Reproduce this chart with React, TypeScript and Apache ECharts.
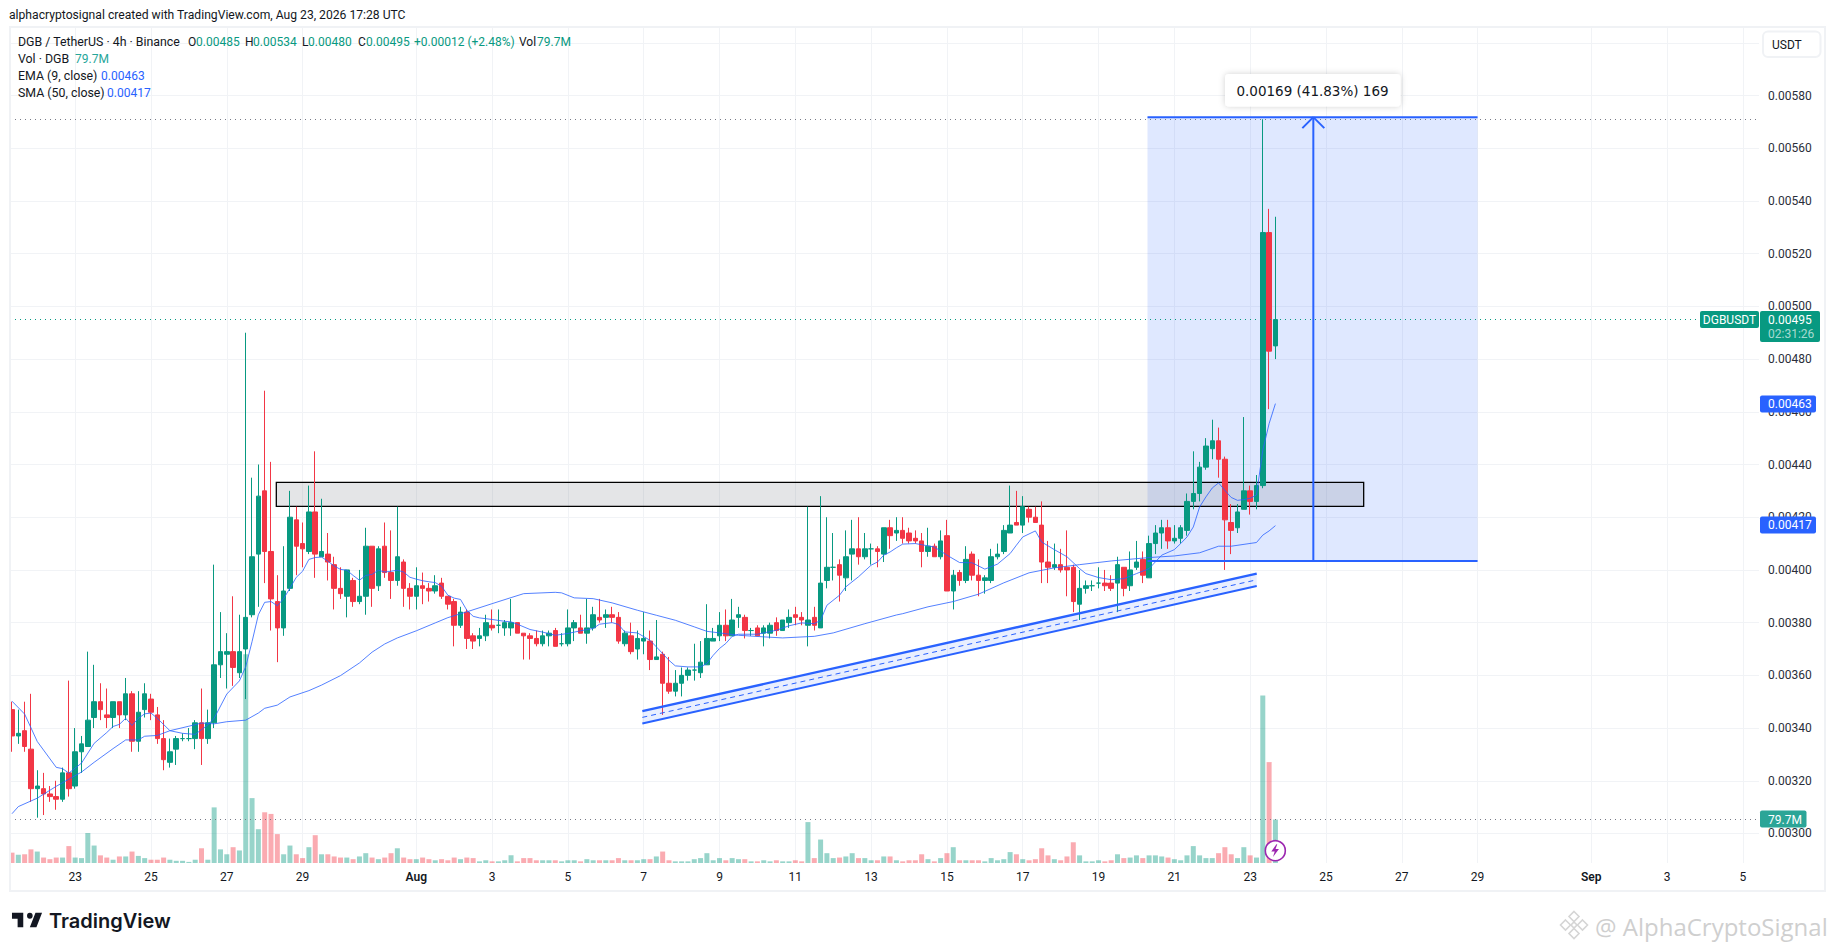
import React, { useEffect, useRef } from "react";
import * as echarts from "echarts";

// Prices are whole ticks of 0.00001 USDT. Candle numbers start at 1 (4h candles, Jul 21 16:00 onward).
const PRICE_TICK = 0.00001;

const opens = [
  347,337,339,332,317,317,315,314,313,323,318,331,333,344,350,345,344,350,345,353,
  335,347,351,345,336,327,332,336,336,336,342,336,342,364,368,369,361,370,383,406,
  430,407,388,378,393,419,410,407,422,405,406,402,393,390,396,388,390,409,394,409,
  399,396,403,393,390,394,393,392,395,390,388,379,384,375,374,375,379,379,378,378,
  380,376,375,374,372,375,377,372,372,378,378,376,378,382,382,383,382,372,375,370,
  373,373,366,368,357,354,357,360,362,361,364,373,375,379,375,382,382,377,378,376,
  376,380,377,380,383,382,379,382,378,396,401,402,397,406,408,405,408,408,406,416,
  414,415,414,412,411,407,409,405,413,392,399,396,406,398,396,396,405,407,414,418,
  417,423,420,417,403,401,402,401,401,387,393,394,395,395,395,395,401,394,401,404,
  397,410,414,416,411,412,415,426,429,439,446,449,442,418,416,423,430,426,432,528,485,
];
const closes = [
  337,338,333,317,318,315,314,313,323,317,331,334,343,350,347,344,350,345,353,335,
  346,353,346,336,328,331,336,336,336,342,336,342,364,369,369,363,369,382,405,428,
  407,389,378,392,420,409,408,422,406,407,403,393,391,400,388,390,409,393,408,399,
  396,405,393,390,394,393,392,394,390,387,379,384,374,373,375,380,378,379,380,380,
  376,375,374,372,375,376,371,372,378,380,376,378,383,381,383,382,373,376,369,374,
  374,366,367,357,354,357,360,362,362,365,374,374,379,375,381,383,377,377,375,378,
  379,377,381,382,382,381,381,379,395,401,401,398,405,408,405,408,408,407,416,413,
  415,412,411,411,407,409,405,411,392,398,396,404,398,396,397,405,406,415,417,417,
  424,420,418,403,401,402,400,400,388,393,394,394,395,394,393,402,393,400,403,398,
  410,414,416,411,412,416,426,429,439,447,449,442,419,415,422,430,426,432,528,483,495,
];
const lows = [
  331,334,331,312,306,307,312,309,312,314,317,323,333,340,343,340,340,340,343,331,
  331,344,343,334,324,325,326,335,335,332,326,334,340,359,355,356,359,351,382,386,
  395,377,365,375,392,398,401,406,397,405,396,385,389,382,386,387,383,386,392,397,
  389,394,386,385,385,387,388,391,389,385,371,378,370,370,371,373,377,376,375,375,
  376,366,366,371,371,371,371,371,371,373,376,372,377,380,378,380,372,371,368,366,
  368,362,366,345,353,352,352,358,358,359,364,373,373,373,375,378,374,375,375,371,
  374,375,377,378,379,379,371,377,378,393,396,388,392,396,402,404,402,401,403,408,
  411,410,410,410,401,405,405,404,392,385,394,395,396,390,391,395,404,406,414,417,
  414,418,418,395,395,400,399,390,384,381,391,392,393,392,392,384,390,392,400,395,
  397,406,408,408,410,410,413,423,426,438,442,435,400,406,414,423,421,423,431,461,480,
];
const highs = [
  350,347,350,353,324,323,318,320,325,358,340,337,369,364,357,355,350,350,359,354,
  354,357,353,348,343,336,337,338,340,343,355,347,402,384,376,390,383,490,435,440,
  468,441,398,409,430,424,418,432,445,427,414,405,401,400,397,400,416,409,409,418,
  415,424,404,395,401,399,395,398,397,390,389,386,385,376,378,383,385,385,381,389,
  380,376,376,377,377,377,378,376,385,381,383,389,386,389,385,386,384,377,380,377,
  384,377,381,369,367,362,363,363,372,373,387,378,384,385,389,386,383,378,379,379,
  380,382,381,385,386,384,424,386,428,420,414,404,415,419,420,414,410,409,416,419,
  420,420,416,415,414,416,410,415,419,400,400,409,407,404,398,408,410,417,432,430,
  428,424,424,426,411,410,408,415,402,400,396,396,401,400,398,405,401,407,411,407,
  413,417,419,419,417,417,429,445,441,450,457,454,443,425,425,458,432,436,571,537,534,
];
// Volume in millions of DGB.
const volumes = [
  19,15,16,25,21,10,7,10,10,31,10,9,55,32,14,10,6,12,12,21,
  13,9,6,6,10,6,4,4,2,6,27,6,102,25,16,29,23,383,119,62,
  93,90,53,16,32,16,9,29,51,16,16,12,10,10,7,12,18,10,7,10,
  18,27,10,7,7,10,7,5,7,5,10,7,10,9,3,5,3,3,5,14,
  3,9,9,5,5,5,5,3,5,5,3,7,5,5,5,5,9,5,5,5,
  7,7,12,21,5,3,3,3,7,9,18,5,9,5,9,7,7,3,3,5,
  3,5,3,3,5,3,75,9,43,18,9,10,12,18,9,9,5,5,12,12,
  5,3,5,5,16,7,3,9,18,29,5,5,5,5,3,9,5,7,20,16,
  7,5,7,27,14,7,5,12,38,14,3,3,5,3,5,16,9,10,14,9,
  14,14,12,10,7,5,14,31,14,9,9,18,29,16,9,29,14,10,307,185,79.7,
];

// Moving averages at [candle number, price in ticks].
const emaPoints: [number, number][] = [
  [1,350.2],[3,345.3],[5,334.9],[8,325.1],[9,324.6],[10,322.9],[12,326.7],[14,334.2],[16,338.3],[17,340.6],
  [18,341.4],[19,343.7],[20,341],[21,343.7],[22,345.4],[23,345.7],[24,343.7],[26,339],[28,338],[30,337.6],
  [32,341.2],[33,343.7],[35,352.9],[37,357.9],[38,363.3],[39,372.8],[40,383],[41,387.7],[42,388],[43,386.4],
  [44,389.1],[45,393.1],[46,397.2],[47,399.5],[48,404],[49,404.7],[50,404.9],[51,403.3],[52,401.5],[53,400.2],
  [54,399.9],[55,397.9],[56,396.1],[57,397.9],[58,398.3],[59,399.9],[60,399.2],[61,399.5],[62,399.9],[63,399.2],
  [64,397.2],[65,396.5],[66,395.9],[67,395.5],[68,395.2],[69,393.8],[70,390.4],[71,389.3],[72,388.8],[73,384.7],
  [74,382.4],[75,381.8],[77,381.2],[79,380.5],[80,380.3],[81,379.4],[83,377.4],[85,376.4],[87,375.2],[89,375.9],
  [91,376.9],[93,377.8],[94,379.4],[96,380],[97,379.3],[98,376.5],[100,376.1],[102,373.3],[103,370.8],[105,365.7],
  [106,363.6],[108,363.2],[110,363.2],[111,364.5],[112,367.6],[113,370.2],[114,372.1],[115,374.8],[116,375.6],[119,375.6],
  [122,377.1],[124,378.8],[126,379.9],[128,379.6],[129,380.9],[130,386.6],[132,390.4],[133,393.6],[135,397.4],[137,401.8],
  [138,403],[139,405.6],[140,406.8],[141,408.4],[142,409.8],[144,410],[147,408.7],[149,405.6],[151,402.8],[153,402.7],
  [155,400.3],[157,402.2],[159,406.2],[160,409.4],[161,412.5],[163,414.8],[164,410.6],[166,407.7],[168,405],[170,400.5],
  [171,398.6],[173,397.1],[175,396.3],[177,396.7],[179,398.6],[181,400.5],[183,405.6],[185,407.7],[186,410],[187,412.5],
  [188,416.3],[189,423.9],[190,427.7],[191,431.1],[192,433],[193,430.2],[194,427.5],[195,426.4],[196,426.7],[197,427.2],
  [198,428.4],[199,445.4],[200,455.5],[201,463.1],
];
const smaPoints: [number, number][] = [
  [1,307.5],[2,310.2],[5,313.4],[8,317.9],[12,323.3],[14,327],[17,332.2],[19,335.5],[21,335.5],[22,336.9],
  [24,337.2],[26,339],[29,340.7],[31,341.9],[33,341.6],[35,342.4],[38,343],[40,345.7],[41,347.5],[43,348.7],
  [45,351.8],[48,354.2],[50,356.3],[53,359.9],[56,364.7],[58,368.8],[60,371.9],[62,374.2],[65,376.9],[68,379.9],
  [70,381.9],[73,384.1],[77,387.2],[80,389.5],[82,391],[87,391.5],[88,391.3],[90,389.4],[93,389.1],[96,387.5],
  [100,384.7],[103,382.8],[106,380.9],[109,378.4],[111,376.7],[114,375.8],[116,375.2],[120,374.6],[123,374.2],[128,374.8],
  [131,376.1],[136,379.6],[141,382.9],[142,383.4],[146,386],[150,388],[154,390.8],[158,395.1],[162,398.9],[166,400.8],
  [170,402],[175,403.4],[181,404.7],[185,405.3],[189,406.5],[192,409],[194,409],[198,410.4],[199,413.2],[200,414.8],[201,416.8],
];

const priceTicks = [300,320,340,360,380,400,420,440,460,480,500,520,540,560,580,600];
const priceLabelTicks = [300,320,340,360,380,400,420,440,460,480,500,520,540,560,580];
const timeTicks = [11,23,35,47,65,77,89,101,113,125,137,149,161,173,185,197,209,221,233,251,263,275];
const timeLabels = ["23","25","27","29","Aug","3","5","7","9","11","13","15","17","19","21","23","25","27","29","Sep","3","5"];

// Drawings, in [candle number, price] terms.
const longRange = { from: 180.75, to: 233, low: 403.4, high: 571.8, arrowAt: 207 };
const boxRange = { from: 42.84, to: 214.97, low: 424.1, high: 433.2 };
const channel = { from: 100.78, to: 198.04, topFrom: 346.4, topTo: 398.6, botFrom: 341.7, botTo: 393.9 };
const closePrice = 495;
const highPrice = 571;
const emaLast = 463;
const smaLast = 417;
const volumeLast = 79.7;

const TEAL = "#089981";
const RED = "#F23645";
const BLUE = "#2962FF";
const INK = "#131722";
const GRID = "#F1F3F6";
const FONT = "Roboto, sans-serif";

const fmt = (v: number) => (v * PRICE_TICK).toFixed(5);

const TV_LOGO = "M14 6H2v6h6v9h6V6zm14 15h-7l6-15h7l-6 15zm-7-9a3 3 0 1 0 0-6 3 3 0 0 0 0 6z";
const BOLT = "M6 0L0 9h4L2 16l7-10H5L7 0z";
echarts.graphic.registerShape("tvLogo", echarts.graphic.extendPath(TV_LOGO, {}) as any);
echarts.graphic.registerShape("bolt", echarts.graphic.extendPath(BOLT, {}) as any);

const txt = (x: number, y: number, text: string, fill: string, extra: any = {}) => ({
  type: "text",
  z: 100,
  x,
  y,
  style: { text, fill, font: `${extra.weight || 400} ${extra.size || 12}px ${extra.family || FONT}`, textAlign: extra.align || "left", textVerticalAlign: "middle" },
});

function drawingsUnder(_p: any, api: any) {
  const c = (n: number, v: number) => api.coord([n, v]);
  const a = c(longRange.from, longRange.high);
  const b = c(longRange.to, longRange.low);
  const g1 = c(boxRange.from, boxRange.high);
  const g2 = c(boxRange.to, boxRange.low);
  return {
    type: "group",
    children: [
      { type: "rect", shape: { x: a[0], y: a[1], width: b[0] - a[0], height: b[1] - a[1] }, style: { fill: "rgba(41,98,255,0.15)" } },
      { type: "rect", shape: { x: g1[0], y: g1[1], width: g2[0] - g1[0], height: g2[1] - g1[1] }, style: { fill: "rgba(120,123,134,0.2)", stroke: "#000", lineWidth: 1.3 } },
    ],
  };
}

function drawingsOver(_p: any, api: any) {
  const c = (n: number, v: number) => api.coord([n, v]);
  const line = (p: number[], q: number[], lineWidth: number, lineDash?: number[]) => ({
    type: "line",
    shape: { x1: p[0], y1: p[1], x2: q[0], y2: q[1] },
    style: { stroke: BLUE, lineWidth, lineDash, fill: "none" },
  });
  const tl = c(channel.from, channel.topFrom), tr = c(channel.to, channel.topTo);
  const bl = c(channel.from, channel.botFrom), br = c(channel.to, channel.botTo);
  const ml = [tl[0], (tl[1] + bl[1]) / 2], mr = [tr[0], (tr[1] + br[1]) / 2];
  const top = c(longRange.arrowAt, longRange.high), bot = c(longRange.arrowAt, longRange.low);
  const lo1 = c(longRange.from, longRange.low), lo2 = c(longRange.to, longRange.low);
  const hi1 = c(longRange.from, longRange.high), hi2 = c(longRange.to, longRange.high);
  return {
    type: "group",
    children: [
      { type: "polygon", shape: { points: [tl, tr, br, bl] }, style: { fill: "rgba(41,98,255,0.1)" } },
      line(tl, tr, 2.4),
      line(bl, br, 2),
      line(ml, mr, 1, [5, 4]),
      line(hi1, hi2, 2),
      line(lo1, lo2, 2),
      line(top, bot, 2),
      line(top, [top[0] - 11, top[1] + 11], 2),
      line(top, [top[0] + 11, top[1] + 11], 2),
    ],
  };
}

export default function App() {
  const ref = useRef<HTMLDivElement>(null);

  useEffect(() => {
    document.body.style.margin = "0";
    const chart = echarts.init(ref.current as HTMLDivElement, undefined, { renderer: "svg" });

    const candleData = opens.map((o, i) => [i + 1, o, closes[i], lows[i], highs[i]]);
    const volumeData = volumes.map((v, i) => ({
      value: [i + 1, v],
      itemStyle: { color: closes[i] >= opens[i] ? "rgba(8,153,129,0.42)" : "rgba(242,54,69,0.42)" },
    }));

    chart.setOption({
      animation: false,
      backgroundColor: "#fff",
      grid: { left: 10, right: 76, top: 27, bottom: 88, containLabel: false },
      xAxis: {
        type: "value",
        min: 0.683,
        max: 277.55,
        axisLine: { show: false },
        axisTick: { show: false, customValues: timeTicks },
        splitLine: { show: true, lineStyle: { color: GRID, width: 1 } },
        axisLabel: {
          customValues: timeTicks,
          margin: 8,
          color: INK,
          fontFamily: FONT,
          fontSize: 12,
          showMinLabel: true,
          showMaxLabel: true,
          hideOverlap: false,
          formatter: (v: number) => {
            const t = timeLabels[timeTicks.indexOf(v)] ?? "";
            return t === "Aug" || t === "Sep" ? `{b|${t}}` : t;
          },
          rich: { b: { fontWeight: 600, color: INK, fontFamily: FONT, fontSize: 12 } },
        },
      },
      yAxis: [
        {
          type: "value",
          position: "right",
          min: 288.8,
          max: 606,
          axisLine: { show: false },
          axisTick: { show: false, customValues: priceTicks },
          splitLine: { show: true, lineStyle: { color: GRID, width: 1 } },
          axisLabel: {
            customValues: priceLabelTicks,
            inside: false,
            margin: 9,
            color: "#2A2E39",
            fontFamily: FONT,
            fontSize: 12,
            align: "left",
            formatter: (v: number) => fmt(v),
          },
        },
        { type: "value", min: 0, max: 1533, show: false, splitLine: { show: false } },
      ],
      series: [
        {
          name: "Vol",
          type: "bar",
          yAxisIndex: 1,
          barWidth: 5,
          z: 2,
          data: volumeData,
          markLine: {
            silent: true,
            symbol: "none",
            label: { show: false },
            lineStyle: { color: "#787B86", type: [1, 4], width: 1 },
            data: [{ yAxis: volumeLast }],
          },
        },
        { type: "custom", z: 1, renderItem: drawingsUnder, data: [[longRange.from, longRange.low]], encode: { x: 0, y: 1 }, silent: true },
        {
          name: "DGB / TetherUS",
          type: "candlestick",
          z: 3,
          barWidth: 5,
          data: candleData,
          itemStyle: { color: TEAL, color0: RED, borderColor: TEAL, borderColor0: RED, borderWidth: 1 },
          markLine: {
            silent: true,
            symbol: "none",
            label: { show: false },
            data: [
              { yAxis: highPrice, lineStyle: { color: "#787B86", type: [1, 4], width: 1 } },
              { yAxis: closePrice, lineStyle: { color: TEAL, type: [1, 4], width: 1 } },
            ],
          },
        },
        { name: "EMA (9, close)", type: "line", z: 4, showSymbol: false, symbol: "none", data: emaPoints, lineStyle: { color: BLUE, width: 1, opacity: 0.8 } },
        { name: "SMA (50, close)", type: "line", z: 4, showSymbol: false, symbol: "none", data: smaPoints, lineStyle: { color: BLUE, width: 1, opacity: 0.8 } },
        { type: "custom", z: 5, renderItem: drawingsOver, data: [[longRange.from, longRange.low]], encode: { x: 0, y: 1 }, silent: true },
      ],
    });

    const py = (v: number) => chart.convertToPixel({ yAxisIndex: 0 }, v) as number;
    const vy = (v: number) => chart.convertToPixel({ yAxisIndex: 1 }, v) as number;
    const tag = (x: number, y: number, w: number, h: number, fill: string) => ({
      type: "rect",
      z: 99,
      shape: { x, y, width: w, height: h, r: 2 },
      style: { fill },
    });
    const closeY = py(closePrice);
    const flashX = 1275.3;
    const flashY = 850.7;
    const bx = 1574, by = 925;
    const rhomb = (cx: number, cy: number, r: number) => ({
      type: "polygon",
      z: 100,
      shape: { points: [[cx, cy - r], [cx + r, cy], [cx, cy + r], [cx - r, cy]] },
      style: { fill: "none", stroke: "#D5D5D5", lineWidth: 1.6 },
    });

    chart.setOption({
      graphic: [
        // pane frame
        { type: "rect", z: 90, shape: { x: 10, y: 27, width: 1815, height: 864 }, style: { fill: "none", stroke: "#F0F2F5", lineWidth: 2 } },
        txt(9, 15, "alphacryptosignal created with TradingView.com, Aug 23, 2026 17:28 UTC", INK, { size: 12.15 }),
        // legend
        txt(18, 42, "DGB / TetherUS · 4h · Binance", INK, { size: 12.35 }),
        txt(188, 42, "O", INK), txt(196, 42, "0.00485", TEAL),
        txt(245, 42, "H", INK), txt(253, 42, "0.00534", TEAL),
        txt(302, 42, "L", INK), txt(308, 42, "0.00480", TEAL),
        txt(358, 42, "C", INK), txt(366, 42, "0.00495", TEAL),
        txt(414, 42, "+0.00012 (+2.48%)", TEAL),
        txt(519, 42, "Vol", INK), txt(537, 42, "79.7M", TEAL),
        txt(18, 59, "Vol · DGB", INK, { size: 12.35 }), txt(75, 59, "79.7M", "#26A69A"),
        txt(18, 76, "EMA (9, close)", INK, { size: 12.35 }), txt(101, 76, "0.00463", BLUE),
        txt(18, 93, "SMA (50, close)", INK, { size: 12.35 }), txt(107, 93, "0.00417", BLUE),
        // currency button
        { type: "rect", z: 99, shape: { x: 1763, y: 31.5, width: 57.5, height: 25.5, r: 5 }, style: { fill: "#fff", stroke: "#F0F2F5", lineWidth: 2 } },
        txt(1772, 44.5, "USDT", INK),
        // price tags
        tag(1700, closeY - 8.5, 59, 17, TEAL),
        txt(1729.5, closeY, "DGBUSDT", "#fff", { align: "center" }),
        tag(1760, closeY - 8.5, 60, 31, TEAL),
        txt(1768, closeY, fmt(closePrice), "#fff"),
        txt(1768, closeY + 14, "02:31:26", "rgba(255,255,255,0.65)"),
        tag(1760, py(emaLast) - 8.5, 56, 17, BLUE),
        txt(1768, py(emaLast), fmt(emaLast), "#fff"),
        tag(1760, py(smaLast) - 8.5, 56, 17, BLUE),
        txt(1768, py(smaLast), fmt(smaLast), "#fff"),
        tag(1760, vy(volumeLast) - 9, 46.5, 17, "#2BA597"),
        txt(1768, vy(volumeLast), "79.7M", "#fff"),
        // measure label
        { type: "rect", z: 99, shape: { x: 1225, y: 74, width: 175.5, height: 32.5, r: 4 }, style: { fill: "#fff", shadowBlur: 6, shadowColor: "rgba(0,0,0,0.18)" } },
        txt(1312.5, 90.5, "0.00169 (41.83%) 169", INK, { size: 13.5, align: "center", family: "'DejaVu Sans', sans-serif" }),
        // flash marker
        { type: "circle", z: 99, shape: { cx: flashX, cy: flashY, r: 10 }, style: { fill: "#fff", stroke: "#9C27B0", lineWidth: 1.6 } },
        { type: "bolt", z: 100, x: flashX - 4, y: flashY - 6.4, scaleX: 0.85, scaleY: 0.8, style: { fill: "#9C27B0" } },
        // footer logo
        { type: "tvLogo", z: 100, x: 10.1, y: 907, scaleX: 0.94, scaleY: 0.97, style: { fill: INK } },
        txt(49, 920.5, "TradingView", INK, { size: 20, family: "Inter, sans-serif", weight: 600 }),
        // watermark
        rhomb(bx, by - 8.5, 5), rhomb(bx - 8.5, by, 5), rhomb(bx + 8.5, by, 5), rhomb(bx, by + 8.5, 5), rhomb(bx, by, 3),
        txt(1595, 926, "@ AlphaCryptoSignal", "#CFCFCF", { size: 24, family: "'Open Sans', sans-serif" }),
      ],
    });

    return () => chart.dispose();
  }, []);

  return <div ref={ref} style={{ position: "absolute", left: 0, top: 0, width: 1835, height: 951, background: "#fff" }} />;
}
